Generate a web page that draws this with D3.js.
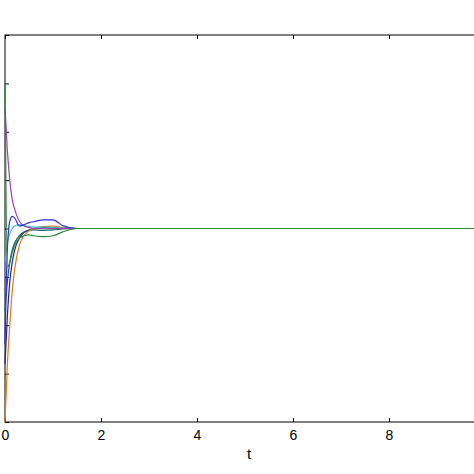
<!DOCTYPE html>
<html><head><meta charset="utf-8">
<script src="https://cdn.jsdelivr.net/npm/d3@7"></script>
<style>body{margin:0;background:#fff}svg{display:block}</style>
</head><body><div id="chart"></div>
<script>
const times = [0, 0.05, 0.1, 0.15, 0.2, 0.3, 0.4, 0.5, 0.6, 0.8, 1.0, 1.2, 1.5, 2, 10];
const purple = [6.5, 5.6, 5.0, 4.6, 4.4, 4.15, 4.05, 4.02, 4.0, 4.0, 4.0, 4.0, 4.0, 4.0, 4.0];
const green = [7.0, 3.2, 3.3, 3.5, 3.65, 3.8, 3.85, 3.87, 3.85, 3.83, 3.85, 3.93, 4.0, 4.0, 4.0];
const blue = [1.6, 3.6, 4.15, 4.25, 4.22, 4.05, 4.08, 4.12, 4.14, 4.18, 4.18, 4.06, 4.0, 4.0, 4.0];
const cyan = [3.3, 3.7, 3.9, 4.0, 4.05, 4.08, 4.06, 4.04, 4.03, 4.03, 4.02, 4.01, 4.0, 4.0, 4.0];
const navy = [1.2, 2.2, 2.9, 3.3, 3.55, 3.8, 3.92, 3.97, 4.0, 4.02, 4.02, 4.01, 4.0, 4.0, 4.0];
const teal = [2.3, 2.9, 3.3, 3.55, 3.7, 3.85, 3.93, 3.96, 3.97, 3.96, 3.97, 3.99, 4.0, 4.0, 4.0];
const orange = [0.0, 1.2, 2.0, 2.7, 3.15, 3.65, 3.86, 3.95, 4.0, 4.04, 4.05, 4.02, 4.0, 4.0, 4.0];
const series = [
  {name: "navy", values: navy, color: "#2020a0"},
  {name: "teal", values: teal, color: "#106060"},
  {name: "orange", values: orange, color: "#e07a1a"},
  {name: "cyan", values: cyan, color: "#40b8c8"},
  {name: "purple", values: purple, color: "#a040b0"},
  {name: "blue", values: blue, color: "#3030e0"},
  {name: "green", values: green, color: "#2a8a3a"}
];
const xTicks = [0, 2, 4, 6, 8];
const yTicks = [0, 1, 2, 3, 4, 5, 6, 7, 8];

const width = 474, height = 474;
const margin = {top: 35, right: -11, bottom: 52, left: 5};

const x = d3.scaleLinear().domain([0, 10]).range([margin.left, width - margin.right]);
const y = d3.scaleLinear().domain([0, 8]).range([height - margin.bottom, margin.top]);

const svg = d3.select("#chart").append("svg").attr("width", width).attr("height", height);

const g = svg.append("g").attr("font-family", "Liberation Sans, Arial, sans-serif");

// frame
g.append("rect")
  .attr("x", x(0)).attr("y", y(8))
  .attr("width", x(10) - x(0)).attr("height", y(0) - y(8))
  .attr("fill", "none").attr("stroke", "#000").attr("stroke-width", 1);

const xAxis = g.append("g").attr("transform", `translate(0,${y(0)})`)
  .call(d3.axisBottom(x).tickValues(xTicks).tickSize(-4).tickPadding(8).tickFormat(d3.format("d")));
xAxis.select(".domain").remove();
xAxis.selectAll("text").attr("font-size", 14).attr("fill", "#000");

const xTop = g.append("g").attr("transform", `translate(0,${y(8)})`)
  .call(d3.axisTop(x).tickValues(xTicks).tickSize(-4).tickFormat(""));
xTop.select(".domain").remove();

const yAxis = g.append("g").attr("transform", `translate(${x(0)},0)`)
  .call(d3.axisLeft(y).tickValues(yTicks).tickSize(-4).tickFormat(""));
yAxis.select(".domain").remove();

g.append("text").attr("x", 249).attr("y", 459).attr("text-anchor", "middle")
  .attr("font-size", 15).text("t");

const line = d3.line().x((d, i) => x(times[i])).y(d => y(d)).curve(d3.curveMonotoneX);

g.selectAll("path.series").data(series).enter().append("path")
  .attr("class", "series")
  .attr("d", d => line(d.values))
  .attr("fill", "none")
  .attr("stroke", d => d.color)
  .attr("stroke-width", 1.2);
</script></body></html>
